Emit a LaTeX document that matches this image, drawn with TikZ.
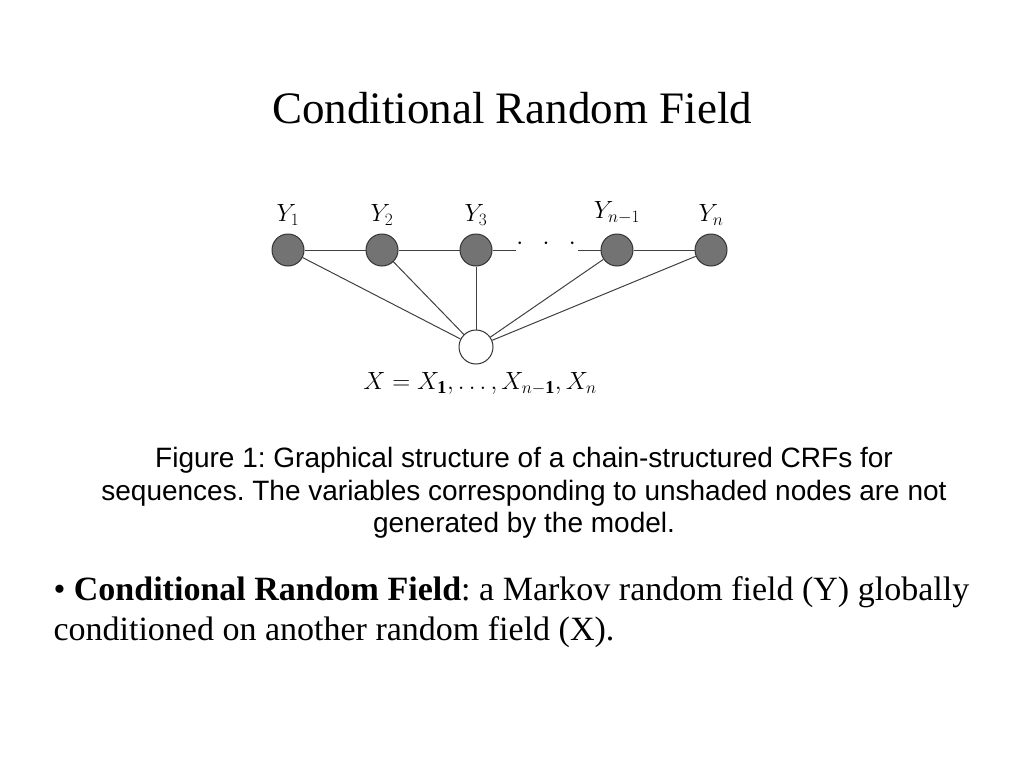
\documentclass[tikz,border=0pt]{standalone}
\usepackage{fontspec}
\setmainfont{Liberation Serif}
\newfontfamily\capfont{Liberation Sans}
\frenchspacing
\begin{document}
\begin{tikzpicture}[x=1pt,y=-1pt,
  yn/.style={circle,draw=black!80,fill=black!55,minimum size=32pt,inner sep=0pt,line width=1pt},
  xn/.style={circle,draw=black!80,fill=white,minimum size=34pt,inner sep=0pt,line width=1pt},
  ed/.style={draw=black!75,line width=1pt},
  lab/.style={font=\fontsize{26}{30}\selectfont}]
\useasboundingbox (0,0) rectangle (1024,768);
\node at (512,108) {\fontsize{45}{50}\selectfont Conditional Random Field};
\node[yn] (y1) at (288,250) {};
\node[yn] (y2) at (382,250) {};
\node[yn] (y3) at (476,250) {};
\node[yn] (yn1) at (617,250) {};
\node[yn] (yn) at (711,250) {};
\node[xn] (x) at (476,347) {};
\node[lab] at (288,215) {$Y_1$};
\node[lab] at (382,215) {$Y_2$};
\node[lab] at (476,215) {$Y_3$};
\node[lab] at (617,213) {$Y_{n-1}$};
\node[lab] at (711,215) {$Y_n$};
\node[lab] (dots) at (546,244) {$\cdot\;\;\cdot\;\;\cdot$};
\coordinate (d1) at (516,250);
\coordinate (d2) at (578,250);
\draw[ed] (y1)--(y2); \draw[ed] (y2)--(y3); \draw[ed] (y3)--(d1);
\draw[ed] (d2)--(yn1); \draw[ed] (yn1)--(yn);
\foreach \n in {y1,y2,y3,yn1,yn} \draw[ed] (\n)--(x);
\node[lab] at (480,384) {$X=X_{\mathbf{1}},\ldots,X_{n-\mathbf{1}},X_n$};
\node[align=center,font=\capfont\fontsize{28}{32.5}\selectfont] at (524,493)
 {Figure 1: Graphical structure of a chain-structured CRFs for\\
  sequences. The variables corresponding to unshaded nodes are not\\
  generated by the model.};
\node[anchor=west,align=left,font=\fontsize{34}{40}\selectfont] at (50,612)
 {• \textbf{Conditional Random Field}: a Markov random field (Y) globally\\
  conditioned on another random field (X).};
\end{tikzpicture}
\end{document}
